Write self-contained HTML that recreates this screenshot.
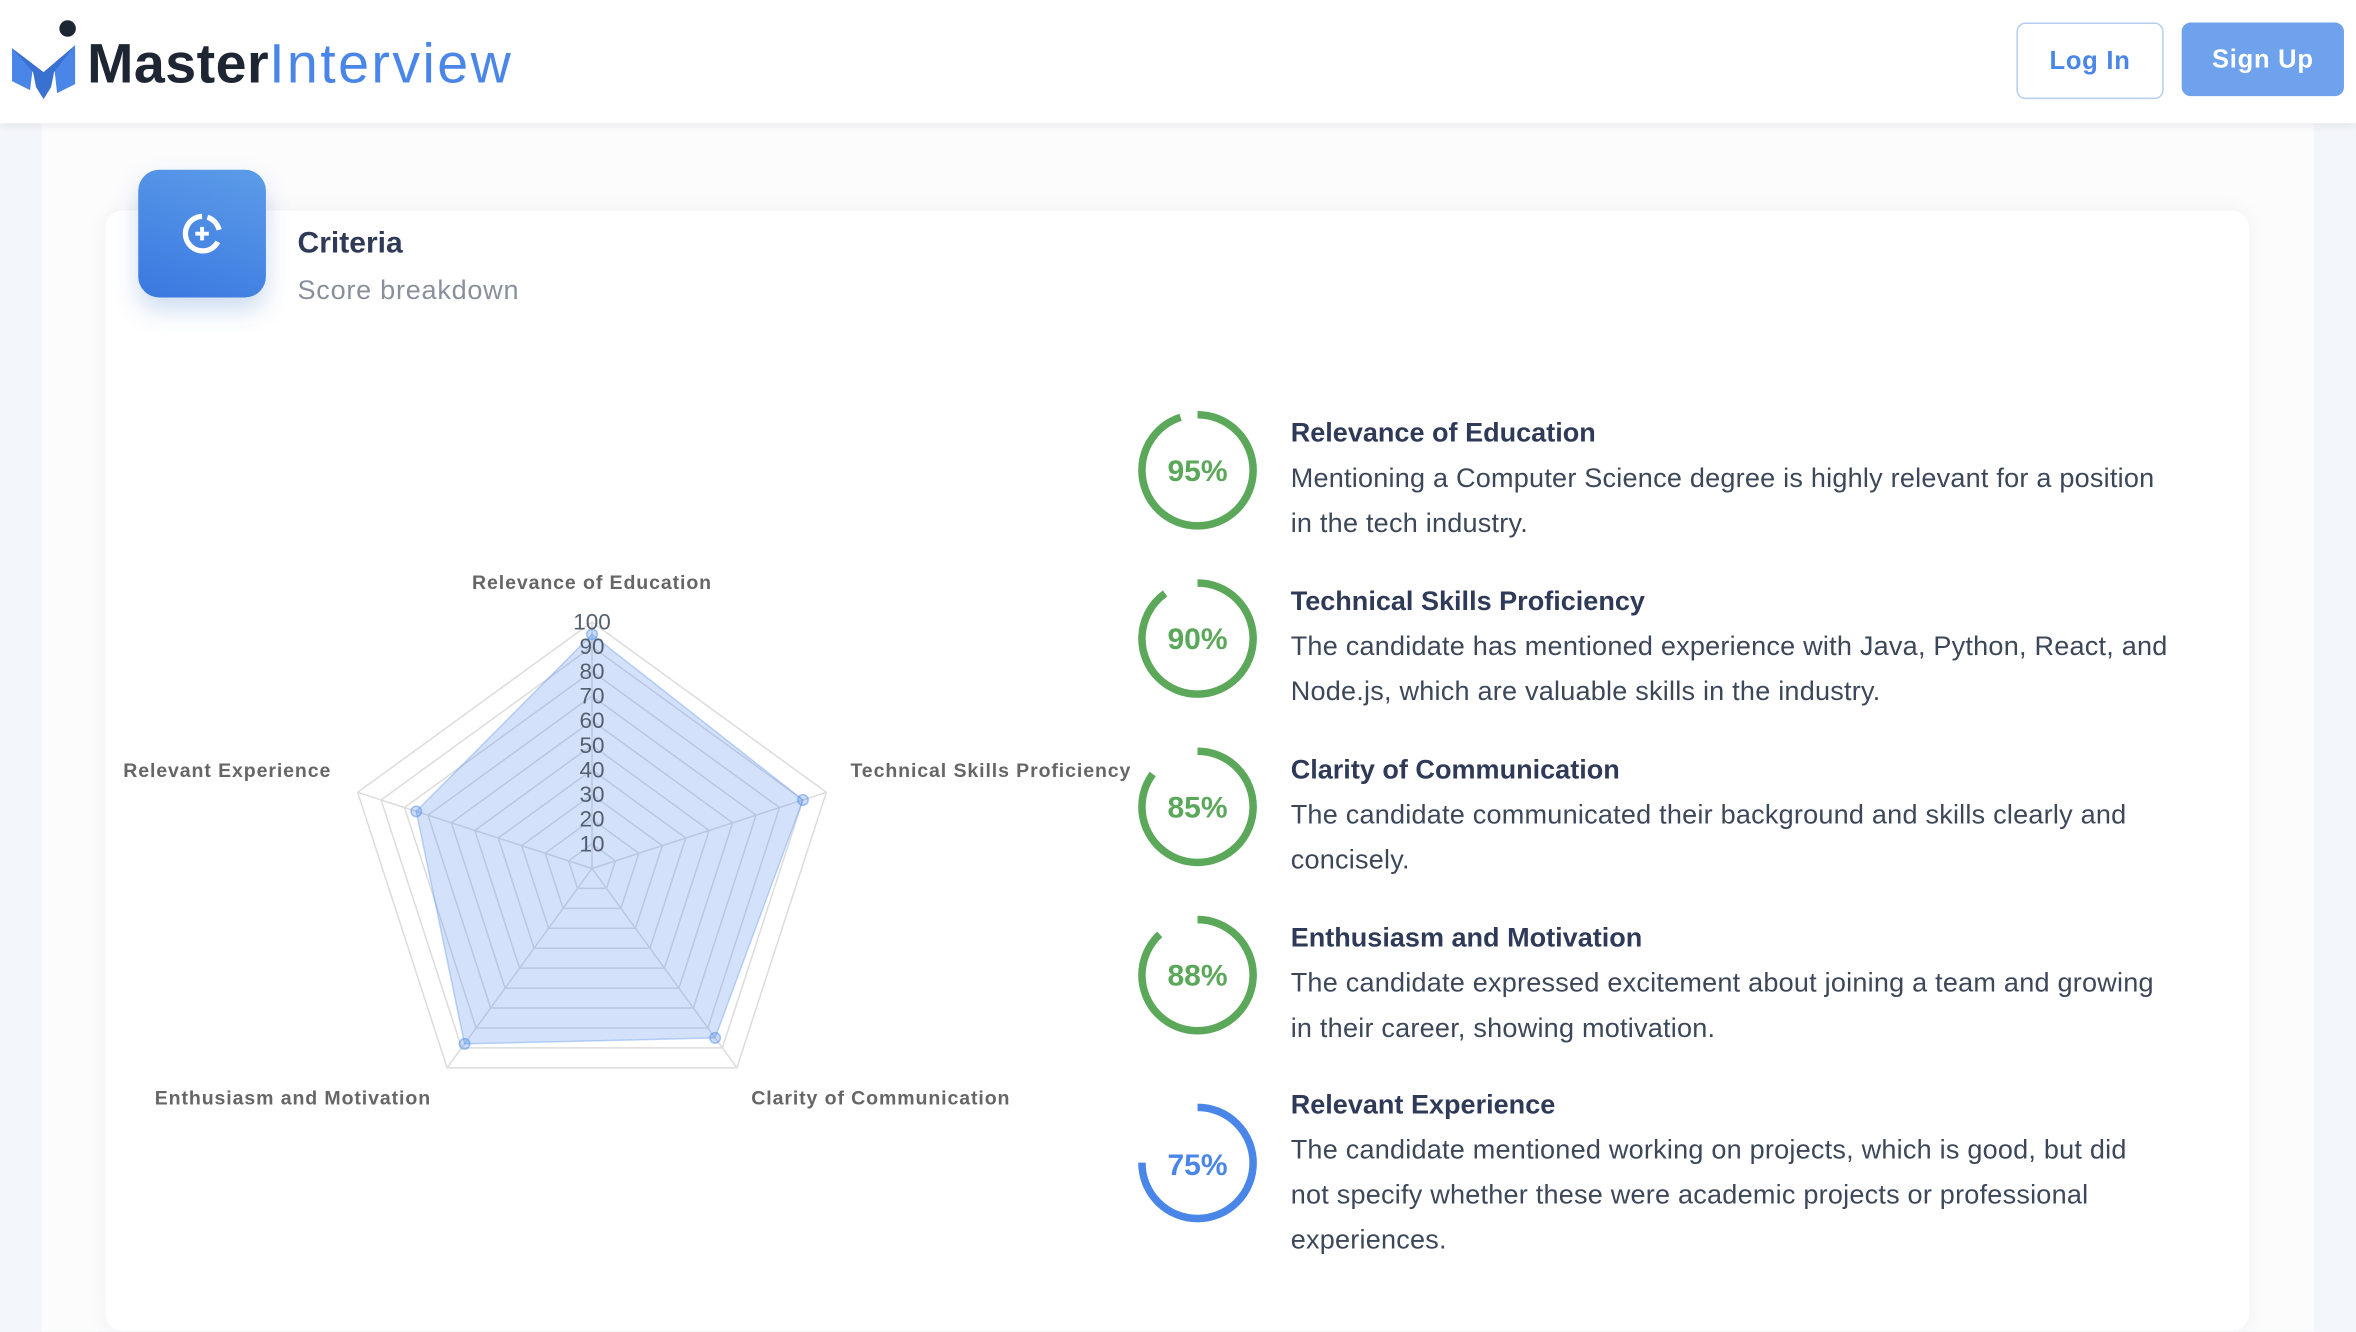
<!DOCTYPE html>
<html><head><meta charset="utf-8"><style>
html,body{margin:0;padding:0;width:2356px;height:1332px;overflow:hidden;background:#f3f6fb;}
#w{position:absolute;left:0;top:0;width:1568px;height:886px;transform:scale(1.50255);transform-origin:0 0;font-family:"Liberation Sans",sans-serif;}
.panel{position:absolute;left:28px;top:82px;width:1512px;height:804px;background:#fcfcfd;}
.card{position:absolute;left:70px;top:140px;width:1427px;height:746px;background:#fff;border-radius:12px;box-shadow:0 0 14px rgba(0,0,0,0.05);}
.hdr{position:absolute;left:0;top:0;width:1568px;height:82px;background:#fff;box-shadow:0 2px 6px rgba(0,0,0,0.08);}
.icon{position:absolute;left:92px;top:113px;width:85px;height:85px;border-radius:14px;background:linear-gradient(200deg,#5c9ce8,#3a78e0);box-shadow:0 8px 16px rgba(60,120,200,0.25);}
.item{position:absolute;left:756px;width:720px;}
.item h3{position:absolute;left:103px;top:0;margin:0;font-size:18px;font-weight:bold;color:#2e3a57;}
.item p{position:absolute;left:103px;top:25px;margin:0;width:586px;font-size:18px;line-height:30px;color:#3c4759;letter-spacing:0.15px;}
.ring{position:absolute;left:0;top:-14px;}
.btn{position:absolute;top:15px;height:49px;border-radius:6px;font-size:17px;font-weight:bold;display:flex;align-items:center;justify-content:center;letter-spacing:.5px;}
</style></head><body><div id="w">
<div class="panel"></div>
<div class="card"></div>
<div class="hdr">
<svg style="position:absolute;left:6px;top:12px" width="48" height="56" viewBox="0 0 48 56">
<circle cx="39" cy="7" r="5.5" fill="#1f2633"/>
<polygon points="2,20 16,32 14,48 2,42" fill="#4a86e8"/>
<polygon points="44,18 44,44 32,50 30,32" fill="#4a86e8"/>
<polygon points="2,20 23,36 44,18 30,36 28,46 23,54 18,46 16,36" fill="#3a70d0"/>
</svg>
<div style="position:absolute;left:58px;top:22px;font-size:37px;font-weight:bold;color:#1f2633;letter-spacing:0.3px">Master<span style="color:#4a86e8;font-weight:normal;letter-spacing:1.6px">Interview</span></div>
<div class="btn" style="left:1342px;width:96px;border:1px solid #b5cdf0;color:#4a86e8;">Log In</div>
<div class="btn" style="left:1452px;width:108px;background:#6ea2ec;color:#fff;">Sign Up</div>
</div>
<div class="icon"><svg style="position:absolute;left:28px;top:28px" width="29" height="29" viewBox="0 0 29 29"><path d="M14.5 3 A11.5 11.5 0 1 0 25 20" fill="none" stroke="#fff" stroke-width="3.5"/><path d="M18 3.6 A11.5 11.5 0 0 1 25.8 12" fill="none" stroke="#fff" stroke-width="3.5"/><path d="M14.5 10v9M10 14.5h9" stroke="#fff" stroke-width="2.6"/></svg></div>
<div style="position:absolute;left:198px;top:151px;font-size:20px;font-weight:bold;color:#2e3a57">Criteria</div>
<div style="position:absolute;left:198px;top:183px;font-size:18px;color:#8a8f9c;letter-spacing:0.5px">Score breakdown</div>

<svg style="position:absolute;left:0;top:0" width="760" height="886" font-family="Liberation Sans, sans-serif">
<g fill="none" stroke="#dcdcdc" stroke-width="1" id="grid"></g>
<script>
var cx=394,cy=578,R=164,g=document.getElementById('grid'),ns='http://www.w3.org/2000/svg';
function pt(a,r){var t=(-90+72*a)*Math.PI/180;return [cx+r*Math.cos(t),cy+r*Math.sin(t)];}
for(var k=1;k<=10;k++){var p=[];for(var a=0;a<5;a++)p.push(pt(a,R*k/10).join(','));var e=document.createElementNS(ns,'polygon');e.setAttribute('points',p.join(' '));g.appendChild(e);}
for(var a=0;a<5;a++){var q=pt(a,R),l=document.createElementNS(ns,'line');l.setAttribute('x1',cx);l.setAttribute('y1',cy);l.setAttribute('x2',q[0]);l.setAttribute('y2',q[1]);g.appendChild(l);}
var v=[95,90,85,88,75],d=[];for(var a=0;a<5;a++)d.push(pt(a,R*v[a]/100));
var poly=document.createElementNS(ns,'polygon');poly.setAttribute('points',d.map(function(x){return x.join(',')}).join(' '));poly.setAttribute('fill','rgba(80,140,235,0.25)');poly.setAttribute('stroke','rgba(80,140,235,0.35)');g.parentNode.appendChild(poly);
d.forEach(function(x){var c=document.createElementNS(ns,'circle');c.setAttribute('cx',x[0]);c.setAttribute('cy',x[1]);c.setAttribute('r',3.5);c.setAttribute('fill','rgba(80,140,235,0.3)');c.setAttribute('stroke','rgba(80,140,235,0.5)');g.parentNode.appendChild(c);});
var tg=document.createElementNS(ns,'g');tg.setAttribute('fill','#555e6e');tg.setAttribute('font-size','15');tg.setAttribute('text-anchor','middle');
for(var k=1;k<=10;k++){var t=document.createElementNS(ns,'text');t.setAttribute('x',cx);t.setAttribute('y',cy-R*k/10+5);t.textContent=k*10;tg.appendChild(t);}
g.parentNode.appendChild(tg);
</script>
<g font-size="13" font-weight="bold" fill="#666" letter-spacing="0.6">
<text x="394" y="392" text-anchor="middle">Relevance of Education</text>
<text x="566" y="517">Technical Skills Proficiency</text>
<text x="500" y="735">Clarity of Communication</text>
<text x="103" y="735">Enthusiasm and Motivation</text>
<text x="82" y="517">Relevant Experience</text>
</g>
</svg>

<div class="item" style="top:278px"><svg class="ring" width="90" height="100"><circle cx="41" cy="49" r="37" fill="none" stroke="#5ca85a" stroke-width="5" stroke-dasharray="220.8 232.5" transform="rotate(-90 41 49)"/><text x="41" y="56" text-anchor="middle" font-size="20" font-weight="bold" fill="#5ca85a" font-family="Liberation Sans">95%</text></svg><h3>Relevance of Education</h3><p>Mentioning a Computer Science degree is highly relevant for a position in the tech industry.</p></div>
<div class="item" style="top:390px"><svg class="ring" width="90" height="100"><circle cx="41" cy="49" r="37" fill="none" stroke="#5ca85a" stroke-width="5" stroke-dasharray="209.2 232.5" transform="rotate(-90 41 49)"/><text x="41" y="56" text-anchor="middle" font-size="20" font-weight="bold" fill="#5ca85a" font-family="Liberation Sans">90%</text></svg><h3>Technical Skills Proficiency</h3><p>The candidate has mentioned experience with Java, Python, React, and Node.js, which are valuable skills in the industry.</p></div>
<div class="item" style="top:502px"><svg class="ring" width="90" height="100"><circle cx="41" cy="49" r="37" fill="none" stroke="#5ca85a" stroke-width="5" stroke-dasharray="197.6 232.5" transform="rotate(-90 41 49)"/><text x="41" y="56" text-anchor="middle" font-size="20" font-weight="bold" fill="#5ca85a" font-family="Liberation Sans">85%</text></svg><h3>Clarity of Communication</h3><p>The candidate communicated their background and skills clearly and concisely.</p></div>
<div class="item" style="top:614px"><svg class="ring" width="90" height="100"><circle cx="41" cy="49" r="37" fill="none" stroke="#5ca85a" stroke-width="5" stroke-dasharray="204.6 232.5" transform="rotate(-90 41 49)"/><text x="41" y="56" text-anchor="middle" font-size="20" font-weight="bold" fill="#5ca85a" font-family="Liberation Sans">88%</text></svg><h3>Enthusiasm and Motivation</h3><p>The candidate expressed excitement about joining a team and growing in their career, showing motivation.</p></div>
<div class="item" style="top:725px"><svg class="ring" style="top:0" width="90" height="100"><circle cx="41" cy="49" r="37" fill="none" stroke="#4a86e8" stroke-width="5" stroke-dasharray="174.4 232.5" transform="rotate(-90 41 49)"/><text x="41" y="57" text-anchor="middle" font-size="20" font-weight="bold" fill="#4a86e8" font-family="Liberation Sans">75%</text></svg><h3>Relevant Experience</h3><p>The candidate mentioned working on projects, which is good, but did not specify whether these were academic projects or professional experiences.</p></div>
</div></body></html>
